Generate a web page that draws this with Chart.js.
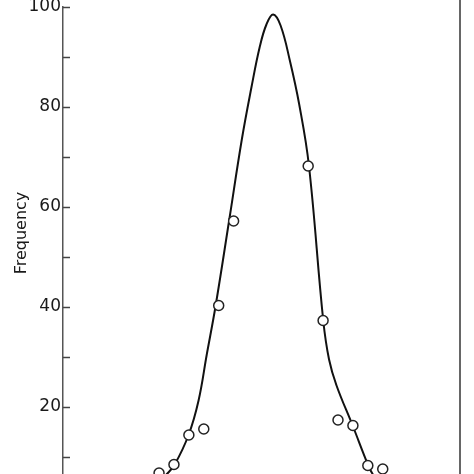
<!DOCTYPE html>
<html>
<head>
<meta charset="utf-8">
<script src="https://cdn.jsdelivr.net/npm/chart.js@4/dist/chart.umd.min.js"></script>
<style>
  html, body { margin: 0; padding: 0; background: #fff; overflow: hidden; }
  #wrap { position: absolute; left: 0; top: 0; width: 474px; height: 520px; }
</style>
</head>
<body>
<div id="wrap"><canvas id="chart" width="474" height="520"></canvas></div>
<script>
// observed frequencies (class number, frequency)
const obsX = [1, 2, 3, 4, 5, 6, 11, 12, 13, 14, 15, 16];
const obsY = [6.8, 8.5, 14.4, 15.6, 40.3, 57.2, 68.2, 37.3, 17.4, 16.3, 8.3, 7.6];

// fitted curve
const fitX = [1.0, 1.5, 2.05, 2.98, 3.65, 4.2, 4.78, 5.7, 6.55, 7.2, 7.75, 8.2, 8.65,
              9.15, 9.77, 10.4, 11.05, 12.01, 12.4, 12.9, 13.98, 15.03, 15.34, 15.8];
const fitY = [5.0, 6.5, 8.5, 14.4, 21.3, 30.5, 40, 57.3, 73.5, 84, 92, 96.5, 98.5,
              96.3, 89.3, 80.5, 68.3, 37.3, 29.5, 24.3, 16.3, 8.3, 6.5, 4.6];

const yTicks = [0, 20, 40, 60, 80, 100];
const yLabel = 'Frequency';

const toPoints = (xs, ys) => xs.map((x, i) => ({ x: x, y: ys[i] }));

// ticks point inwards, plus the frame line on the right and the axis title
const framePlugin = {
    id: 'frame',
    afterDraw(chart) {
        const ctx = chart.ctx;
        const area = chart.chartArea;
        const y = chart.scales.y;
        ctx.save();
        ctx.strokeStyle = '#444';
        ctx.lineWidth = 1.5;
        y.ticks.forEach(t => {
            const py = Math.round(y.getPixelForValue(t.value)) + 0.5;
            ctx.beginPath();
            ctx.moveTo(area.left, py);
            ctx.lineTo(area.left + 7, py);
            ctx.stroke();
        });
        ctx.strokeStyle = '#666';
        ctx.lineWidth = 2;
        ctx.beginPath();
        ctx.moveTo(area.right, 0);
        ctx.lineTo(area.right, chart.height);
        ctx.stroke();

        ctx.translate(22, 233);
        ctx.rotate(-Math.PI / 2);
        ctx.fillStyle = '#1a1a1a';
        ctx.font = '16px "DejaVu Sans"';
        ctx.textAlign = 'center';
        ctx.textBaseline = 'middle';
        ctx.fillText(yLabel, 0, 0);
        ctx.restore();
    }
};

new Chart(document.getElementById('chart'), {
    type: 'scatter',
    data: {
        datasets: [
            {
                label: 'Observed',
                data: toPoints(obsX, obsY),
                pointRadius: 5,
                pointBorderWidth: 1.5,
                pointBorderColor: '#222',
                pointBackgroundColor: '#fff',
                showLine: false
            },
            {
                label: 'Fitted',
                data: toPoints(fitX, fitY),
                showLine: true,
                borderColor: '#111',
                borderWidth: 2,
                pointRadius: 0,
                tension: 0.4,
                fill: false
            }
        ]
    },
    options: {
        responsive: false,
        animation: false,
        layout: { padding: { left: 0, right: 14, top: 7, bottom: 13 } },
        plugins: {
            legend: { display: false },
            tooltip: { enabled: false }
        },
        scales: {
            x: {
                type: 'linear',
                display: false,
                min: -5.44,
                max: 21.18
            },
            y: {
                min: 0,
                max: 100,
                grid: { display: false, drawTicks: false },
                border: { display: true, color: '#555', width: 1.5 },
                ticks: {
                    stepSize: 10,
                    padding: 2,
                    color: '#1a1a1a',
                    font: { family: '"DejaVu Sans"', size: 17 },
                    callback: v => yTicks.includes(v) ? v : ''
                },
                afterFit: s => {
                    s.width = 63;
                    s.paddingTop = 0;
                    s.paddingBottom = 0;
                }
            }
        }
    },
    plugins: [framePlugin]
});
</script>
</body>
</html>
